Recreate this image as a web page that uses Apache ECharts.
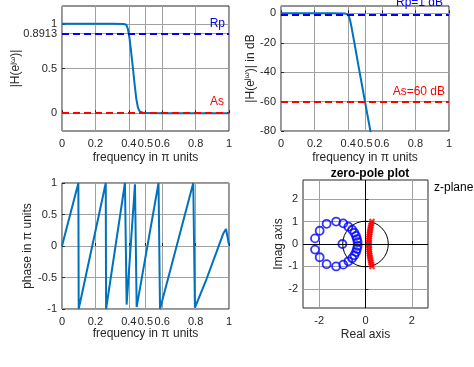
<!DOCTYPE html>
<html>
<head>
<meta charset="utf-8">
<script src="https://cdn.jsdelivr.net/npm/echarts@6/dist/echarts.min.js"></script>
<style>
html,body{margin:0;padding:0;background:#fff;}
#chart{width:474px;height:367px;}
</style>
</head>
<body>
<div id="chart"></div>
<script>
// ---------- data ----------
const freqTicks = [0, 0.2, 0.4, 0.5, 0.6, 0.8, 1];
const magTicks = [0, 0.5, 1];
const magRpTick = [0.8913];
const dbTicks = [-80, -60, -40, -20, 0];
const phaseTicks = [-1, -0.5, 0, 0.5, 1];
const zpXTicks = [-2, 0, 2];
const zpYTicks = [-2, -1, 0, 1, 2];

const magF = [0, 0.2, 0.3, 0.37, 0.385, 0.395, 0.405, 0.415, 0.425, 0.435, 0.445, 0.455, 0.465, 0.475, 0.49, 0.5, 0.6, 0.8, 1];
const magV = [1, 1, 1, 0.999, 0.99, 0.94, 0.83, 0.67, 0.5, 0.32, 0.16, 0.06, 0.02, 0.005, 0.001, 0.0009, 0, 0, 0];

const dbF = [0, 0.2, 0.3, 0.38, 0.39, 0.40, 0.41, 0.42, 0.44, 0.46, 0.48, 0.50, 0.52, 0.54];
const dbV = [0, 0, 0, -0.05, -0.3, -1.0, -4, -9.5, -22, -35, -47.5, -60, -72.5, -85];

const phaseF = [0, 0.098, 0.100, 0.262, 0.264, 0.377, 0.387, 0.437, 0.447, 0.578, 0.587, 0.786, 0.796, 0.866, 0.926, 0.966, 0.982, 0.992, 1.0];
const phaseV = [0, 1, -1, 1, -1, 1, -0.93, 0.98, -0.97, 1, -1, 1, -0.98, -0.52, -0.09, 0.2, 0.27, 0.24, 0.02];

const zerosRe = [-1.0, -2.18, -1.98, -1.68, -1.27, -0.96, -0.74, -0.58, -0.48, -0.41, -0.37, -0.34,
                 -2.18, -1.98, -1.68, -1.27, -0.96, -0.74, -0.58, -0.48, -0.41, -0.37, -0.34];
const zerosIm = [0, 0.25, 0.59, 0.9, 1.0, 0.92, 0.77, 0.64, 0.5, 0.36, 0.22, 0.08,
                 -0.25, -0.59, -0.9, -1.0, -0.92, -0.77, -0.64, -0.5, -0.36, -0.22, -0.08];

const polesRe = [0.28, 0.26, 0.239, 0.223, 0.208, 0.193, 0.182, 0.173, 0.164, 0.158, 0.154, 0.151, 0.15,
                 0.151, 0.154, 0.158, 0.164, 0.173, 0.182, 0.193, 0.208, 0.223, 0.239, 0.26, 0.28];
const polesIm = [1.0, 0.92, 0.83, 0.75, 0.67, 0.58, 0.5, 0.42, 0.33, 0.25, 0.17, 0.08, 0,
                 -0.08, -0.17, -0.25, -0.33, -0.42, -0.5, -0.58, -0.67, -0.75, -0.83, -0.92, -1.0];

const unitCircle = [[0, 0, 1]];
const rpLinear = 0.8913, asLinear = 0, rpDb = -1, asDb = -60;

// ---------- helpers ----------
const zip = (a, b) => a.map((v, i) => [v, b[i]]);
const FONT = 'Liberation Sans';
const gridColor = '#a0a0a0';
const boxColor = '#262626';
const curveColor = '#0072BD';

function vAxis(idx, opt) {
  return Object.assign({
    type: 'value',
    gridIndex: idx,
    axisLine: { show: false },
    axisTick: { show: true, inside: true, length: 3, lineStyle: { color: boxColor } },
    axisLabel: { color: '#262626', fontSize: 11, fontFamily: FONT, margin: 5,
      showMinLabel: true, showMaxLabel: true, hideOverlap: false },
    splitLine: { show: true, lineStyle: { color: gridColor, width: 1 } },
    nameLocation: 'middle',
    nameTextStyle: { color: '#262626', fontSize: 12, fontFamily: FONT }
  }, opt);
}
function withTicks(axis, ticks, fmt) {
  axis.axisTick.customValues = ticks;
  axis.axisLabel.customValues = ticks;
  if (fmt) axis.axisLabel.formatter = fmt;
  return axis;
}
const freqName = 'frequency in π units';

const xAxes = [
  withTicks(vAxis(0, { min: 0, max: 1, name: freqName, nameGap: 21 }), freqTicks),
  withTicks(vAxis(1, { min: 0, max: 1, name: freqName, nameGap: 21 }), freqTicks),
  withTicks(vAxis(2, { min: 0, max: 1, name: freqName, nameGap: 19 }), freqTicks),
  withTicks(vAxis(3, { min: -2.7, max: 2.7, name: 'Real axis', nameGap: 21 }), zpXTicks)
];
const supRich = { s: { fontSize: 8, fontFamily: FONT, color: '#262626', verticalAlign: 'top', padding: [0, 0, 6, 0] } };
const yAxes = [
  withTicks(vAxis(0, { min: -0.2, max: 1.2, name: '|H(e{s|jω})|', nameGap: 39,
    nameTextStyle: { color: '#262626', fontSize: 12, fontFamily: FONT, rich: supRich } }), magTicks),
  withTicks(vAxis(1, { min: -80, max: 5, name: '|H(e{s|jω})| in dB', nameGap: 19,
    nameTextStyle: { color: '#262626', fontSize: 12, fontFamily: FONT, rich: supRich } }), dbTicks),
  withTicks(vAxis(2, { min: -1, max: 1, name: 'phase in π units', nameGap: 20 }), phaseTicks),
  withTicks(vAxis(3, { min: -2.85, max: 2.85, name: 'Imag axis', nameGap: 16 }), zpYTicks),
  withTicks(vAxis(0, { min: -0.2, max: 1.2, position: 'left', name: '' }), magRpTick)
];
xAxes.forEach(a => { a.axisLabel.margin = 7; });

const gridBase = { show: true, borderColor: boxColor, borderWidth: 1, backgroundColor: '#fff' };

function dashLine(value, color, text, dist, axisKey) {
  const d = { lineStyle: { color: color, type: [7, 4], width: 2 },
    label: { show: true, formatter: text, position: 'insideEndTop', color: color, fontSize: 12, fontFamily: FONT, distance: dist } };
  d[axisKey] = value;
  return d;
}

const option = {
  animation: false,
  grid: [
    Object.assign({ left: 62, top: 6, width: 167, height: 125 }, gridBase),
    Object.assign({ left: 281, top: 6, width: 168, height: 125 }, gridBase),
    Object.assign({ left: 62, top: 183, width: 167, height: 126 }, gridBase),
    Object.assign({ left: 303, top: 180, width: 125, height: 128 }, gridBase)
  ],
  xAxis: xAxes,
  yAxis: yAxes,
  title: [{
    text: 'zero-pole plot', left: 365, top: 163, textAlign: 'center',
    textStyle: { fontSize: 12, fontWeight: 'bold', fontFamily: FONT, color: '#000' }
  }],
  graphic: [{
    type: 'text', left: 434, top: 182,
    style: { text: 'z-plane', fontSize: 12, fontFamily: FONT, fill: '#000' }
  }],
  series: [
    { type: 'line', xAxisIndex: 0, yAxisIndex: 0, data: zip(magF, magV), showSymbol: false, clip: true,
      lineStyle: { color: curveColor, width: 2 }, itemStyle: { color: curveColor } },
    { type: 'line', xAxisIndex: 0, yAxisIndex: 0, data: [], silent: true,
      markLine: { symbol: 'none', silent: true, animation: false,
        data: [dashLine(rpLinear, '#0000ff', 'Rp', 4, 'yAxis'), dashLine(asLinear, '#ff0000', 'As', 5, 'yAxis')] } },

    { type: 'line', xAxisIndex: 1, yAxisIndex: 1, data: zip(dbF, dbV), showSymbol: false, clip: true,
      lineStyle: { color: curveColor, width: 2 }, itemStyle: { color: curveColor } },
    { type: 'line', xAxisIndex: 1, yAxisIndex: 1, data: [], silent: true,
      markLine: { symbol: 'none', silent: true, animation: false,
        data: [dashLine(rpDb, '#0000ff', 'Rp=1 dB', 6, 'yAxis'), dashLine(asDb, '#ff0000', 'As=60 dB', 4, 'yAxis')] } },

    { type: 'line', xAxisIndex: 2, yAxisIndex: 2, data: zip(phaseF, phaseV), showSymbol: false, clip: true,
      lineStyle: { color: curveColor, width: 2 }, itemStyle: { color: curveColor } },

    { type: 'line', xAxisIndex: 3, yAxisIndex: 3, data: [], silent: true,
      markLine: { symbol: 'none', silent: true, animation: false, label: { show: false },
        lineStyle: { color: '#000', type: 'solid', width: 1 },
        data: [{ xAxis: 0 }, { yAxis: 0 }] } },
    { type: 'custom', xAxisIndex: 3, yAxisIndex: 3, data: unitCircle, silent: true,
      renderItem: function (params, api) {
        const c = api.coord([api.value(0), api.value(1)]);
        const s = api.size([api.value(2), api.value(2)]);
        return { type: 'circle', shape: { cx: c[0], cy: c[1], r: (s[0] + s[1]) / 2 },
          style: { fill: 'none', stroke: '#000', lineWidth: 1 } };
      } },
    { type: 'scatter', xAxisIndex: 3, yAxisIndex: 3, data: zip(zerosRe, zerosIm), symbol: 'circle', symbolSize: 8,
      itemStyle: { color: 'rgba(0,0,0,0)', borderColor: '#0000ff', borderWidth: 1.8 }, silent: true },
    { type: 'scatter', xAxisIndex: 3, yAxisIndex: 3, data: zip(polesRe, polesIm),
      symbol: 'path://M0,0L10,10M10,0L0,10', symbolSize: 5,
      itemStyle: { color: 'none', borderColor: '#ff0000', borderWidth: 2 }, silent: true }
  ]
};

const chart = echarts.init(document.getElementById('chart'), null, { renderer: 'canvas' });
chart.setOption(option);
</script>
</body>
</html>
